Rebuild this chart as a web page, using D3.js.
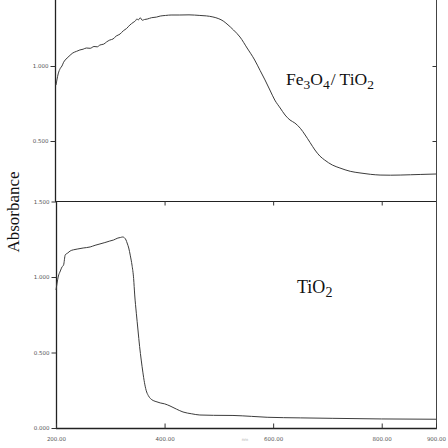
<!DOCTYPE html>
<html><head><meta charset="utf-8">
<script src="https://cdn.jsdelivr.net/npm/d3@7"></script>
<style>body{margin:0;background:#fff}svg{display:block}</style>
</head><body>
<svg id="c" width="448" height="448"></svg>
<script>
// Fe3O4/TiO2 spectrum (wavelength nm, absorbance)
const feWl = [200,204,208,211,214,217,224,231,238,244,250,256,263,270,276,281,288,293,299,305,311,318,324,330,336,342,346,349,352,355,359,363,368,376,385,392,402,412,428,445,465,477,489,500,508,515,527,539,552,566,576,585,594,603,613,622,631,640,650,659,668,677,686,695,709,723,742,760,779,797,816,834,853,872,900];
const feAbs = [0.873,0.947,0.985,1.000,1.025,1.040,1.065,1.087,1.098,1.107,1.112,1.120,1.118,1.130,1.128,1.140,1.146,1.160,1.173,1.180,1.200,1.213,1.235,1.250,1.273,1.290,1.300,1.313,1.308,1.322,1.305,1.310,1.313,1.322,1.326,1.333,1.337,1.340,1.340,1.341,1.337,1.334,1.327,1.315,1.300,1.280,1.240,1.193,1.120,1.040,0.970,0.907,0.840,0.773,0.720,0.673,0.640,0.620,0.585,0.540,0.490,0.440,0.400,0.373,0.340,0.320,0.298,0.287,0.278,0.273,0.272,0.273,0.275,0.277,0.280];
// TiO2 spectrum
const tiWl = [200,202,204,208,211,214,217,222,226,232,239,250,263,272,281,290,299,306,314,319,323,326,329,331,334,337,340,343,345,348,351,354,357,360,363,366,370,374,379,386,392,400,410,422,434,450,465,490,526,560,589,650,710,800,900];
const tiAbs = [0.914,0.960,1.000,1.040,1.066,1.080,1.146,1.160,1.172,1.180,1.185,1.192,1.199,1.210,1.219,1.228,1.238,1.245,1.258,1.262,1.265,1.260,1.245,1.225,1.192,1.140,1.079,0.990,0.881,0.760,0.649,0.540,0.450,0.370,0.300,0.250,0.215,0.195,0.182,0.173,0.166,0.160,0.146,0.125,0.106,0.094,0.086,0.084,0.083,0.077,0.071,0.067,0.064,0.060,0.058];
const xTicks = [200,400,600,800,900];
const topTicks = [0.5,1.0];
const botTicks = [0,0.5,1.0,1.5];

const svg = d3.select("#c");
const x = d3.scaleLinear().domain([200,900]).range([56,436]);
const yTop = d3.scaleLinear().domain([0,1]).range([216,66]);
const yBot = d3.scaleLinear().domain([0,1.5]).range([428,201.5]);

const tickFont = "DejaVu Sans, sans-serif";

// frame lines
svg.append("line").attr("x1",55.5).attr("x2",55.5).attr("y1",0).attr("y2",201).attr("stroke","#222").attr("stroke-width",1.3);
svg.append("line").attr("x1",56.5).attr("x2",56.5).attr("y1",201).attr("y2",428).attr("stroke","#222").attr("stroke-width",1.3);
svg.append("line").attr("x1",55).attr("x2",437).attr("y1",201.5).attr("y2",201.5).attr("stroke","#222").attr("stroke-width",1.2);
svg.append("line").attr("x1",56).attr("x2",437).attr("y1",428.5).attr("y2",428.5).attr("stroke","#222").attr("stroke-width",1.3);
svg.append("line").attr("x1",436.5).attr("x2",436.5).attr("y1",0).attr("y2",429).attr("stroke","#444").attr("stroke-width",1);

function styleAxis(g){
  g.select(".domain").remove();
  g.selectAll(".tick line").attr("stroke","#333");
  g.selectAll(".tick text").attr("font-size",5.5).attr("font-family",tickFont).attr("fill","#555");
}
svg.append("g").attr("transform","translate(55.5,0)")
  .call(d3.axisLeft(yTop).tickValues(topTicks).tickSize(5).tickPadding(2).tickFormat(d3.format(".3f")))
  .call(styleAxis);
svg.append("g").attr("transform","translate(56.5,0)")
  .call(d3.axisLeft(yBot).tickValues(botTicks).tickSize(5).tickPadding(2).tickFormat(d3.format(".3f")))
  .call(styleAxis);
svg.append("g").attr("transform","translate(436.5,0)")
  .call(d3.axisRight(yTop).tickValues(topTicks).tickSize(-4).tickFormat(""))
  .call(styleAxis);
svg.append("g").attr("transform","translate(0,428.5)")
  .call(d3.axisBottom(x).tickValues(xTicks).tickSize(-5).tickPadding(9).tickFormat(d3.format(".2f")))
  .call(styleAxis);
svg.append("g").attr("transform","translate(0,201.5)")
  .call(d3.axisBottom(x).tickValues(xTicks.slice(1,4)).tickSize(4).tickFormat(""))
  .call(styleAxis);
svg.append("text").attr("x",245).attr("y",441).attr("font-size",4).attr("font-family",tickFont).attr("fill","#aaa").attr("text-anchor","middle").text("nm");

const lineTop = d3.line().x((d,i)=>x(feWl[i])).y(d=>yTop(d)).curve(d3.curveMonotoneX);
const lineBot = d3.line().x((d,i)=>x(tiWl[i])).y(d=>yBot(d)).curve(d3.curveMonotoneX);
svg.append("path").attr("d",lineTop(feAbs)).attr("fill","none").attr("stroke","#3c3c3c").attr("stroke-width",1);
svg.append("path").attr("d",lineBot(tiAbs)).attr("fill","none").attr("stroke","#3c3c3c").attr("stroke-width",1);

const serif = "Liberation Serif, Times New Roman, serif";
const t1 = svg.append("text").attr("x",286).attr("y",85).attr("font-family",serif).attr("font-size",17.5).attr("fill","#111");
t1.append("tspan").text("Fe");
t1.append("tspan").attr("dy",4).attr("font-size",13.5).text("3");
t1.append("tspan").attr("dy",-4).text("O");
t1.append("tspan").attr("dy",4).attr("font-size",13.5).text("4");
t1.append("tspan").attr("dy",-4).attr("dx",1).text("/ TiO");
t1.append("tspan").attr("dy",4).attr("font-size",13.5).text("2");

const t2 = svg.append("text").attr("x",297).attr("y",293).attr("font-family",serif).attr("font-size",18).attr("fill","#111");
t2.append("tspan").text("TiO");
t2.append("tspan").attr("dy",4).attr("font-size",14).text("2");

svg.append("text").attr("transform","translate(19,212) rotate(-90)").attr("text-anchor","middle")
  .attr("font-family",serif).attr("font-size",17).attr("fill","#111").text("Absorbance");
</script>
</body></html>
